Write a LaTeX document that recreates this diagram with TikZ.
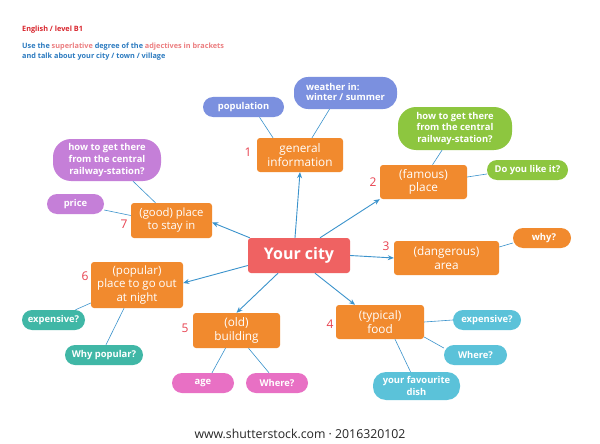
\documentclass[tikz,border=0pt]{standalone}
\usepackage{fontspec}
\setmainfont{Open Sans}
\usetikzlibrary{arrows.meta,calc}
\definecolor{orng}{HTML}{F18A2E}
\definecolor{cred}{HTML}{EF6262}
\definecolor{numred}{HTML}{E8414F}
\definecolor{peri}{HTML}{7B90DF}
\definecolor{lgreen}{HTML}{8DC63F}
\definecolor{purp}{HTML}{C57FD8}
\definecolor{teal}{HTML}{40B7A6}
\definecolor{pink}{HTML}{E870C4}
\definecolor{lblue}{HTML}{5BC2D9}
\definecolor{lineblue}{HTML}{3B93CC}
\definecolor{hblue}{HTML}{2C7BC0}
\definecolor{hpink}{HTML}{EC7E80}
\definecolor{hred}{HTML}{D9262E}
\tikzset{
  mainbox/.style={fill=orng,text=white,rounded corners=3pt,inner sep=0pt,align=center,
    font=\fontsize{11.8}{13.8}\selectfont},
  bub/.style={fill=#1,text=white,rounded corners=10pt,inner sep=0pt,align=center,
    font=\fontsize{9.4}{11.8}\selectfont\bfseries},
  bigbub/.style={fill=#1,text=white,rounded corners=17pt,inner sep=0pt,align=center,
    font=\fontsize{9.4}{11.8}\selectfont\bfseries},
  num/.style={text=numred,font=\fontsize{12}{14}\selectfont,inner sep=0pt},
  arr/.style={draw=lineblue,line width=0.9pt,-{Stealth[length=6pt,width=5pt]}},
  thin/.style={draw=lineblue,line width=0.6pt},
}
\begin{document}
\begin{tikzpicture}[x=1pt,y=-1pt]
\useasboundingbox[fill=white] (0,0) rectangle (600,444);
% header
\node[anchor=west,inner sep=0pt,text=hred,font=\fontsize{7.3}{8.5}\selectfont\bfseries] (h1) at (22,30) {English / level B1};
\node[anchor=west,inner sep=0pt,text=hblue,font=\fontsize{7.3}{8.5}\selectfont\bfseries] (h2) at (22,47) {Use the \textcolor{hpink}{superlative} degree of the \textcolor{hpink}{adjectives in brackets}};
\node[anchor=west,inner sep=0pt,text=hblue,font=\fontsize{7.3}{8.5}\selectfont\bfseries] (h3) at (22,57) {and talk about your city / town / village};
% centre
\node[fill=cred,text=white,rounded corners=3pt,inner sep=0pt,minimum width=102pt,minimum height=35pt,font=\fontsize{16}{18}\selectfont\bfseries] (c) at (299,255.5) {Your city};
% main nodes
\node[mainbox,minimum width=86pt,minimum height=34pt] (g1) at (300,155) {general\\information};
\node[mainbox,minimum width=87pt,minimum height=34pt] (g2) at (423.5,182) {(famous)\\place};
\node[mainbox,minimum width=105pt,minimum height=34pt] (g3) at (446.5,258) {(dangerous)\\area};
\node[mainbox,minimum width=88pt,minimum height=34pt] (g4) at (380,322) {(typical)\\food};
\node[mainbox,minimum width=87pt,minimum height=35pt] (g5) at (236.5,330.5) {(old)\\building};
\node[mainbox,minimum width=92pt,minimum height=46pt,font=\fontsize{11.5}{13.5}\selectfont] (g6) at (137,285) {(popular)\\place to go out\\at night};
\node[mainbox,minimum width=81pt,minimum height=35pt,font=\fontsize{11.3}{13}\selectfont] (g7) at (171.5,220.5) {(good) place\\to stay in};
% numbers
\node[num] (n1) at (248,152) {1};
\node[num] (n2) at (373,182) {2};
\node[num] (n3) at (386,246) {3};
\node[num] (n4) at (330,324) {4};
\node[num] (n5) at (185,328) {5};
\node[num] (n6) at (85,276) {6};
\node[num] (n7) at (124,224) {7};
% bubbles
\node[bub=peri,minimum width=81pt,minimum height=20pt] (pop) at (243.5,107) {population};
\node[bigbub=peri,rounded corners=14pt,minimum width=103pt,minimum height=32pt] (wea) at (345.5,93) {\begin{tabular}{@{}l@{}}weather in:\\[-1.5pt]winter / summer\end{tabular}};
\node[bigbub=lgreen,rounded corners=18pt,minimum width=114pt,minimum height=43pt] (grn) at (455,128.5) {how to get there\\from the central\\railway-station?};
\node[bub=lgreen,minimum width=81pt,minimum height=20pt] (like) at (527.5,170) {Do you like it?};
\node[bub=orng,minimum width=58pt,minimum height=20pt] (why) at (542,238) {\hspace*{4pt}why?};
\node[bigbub=purp,rounded corners=18pt,minimum width=108pt,minimum height=42pt] (pur) at (107,160) {how to get there\\from the central\\railway-station?};
\node[bub=purp,minimum width=57pt,minimum height=20pt] (price) at (75.5,204) {price};
\node[bub=teal,minimum width=63pt,minimum height=20pt] (exp6) at (53.5,320) {expensive?};
\node[bub=teal,minimum width=78pt,minimum height=20pt] (whyp) at (104,355) {Why popular?};
\node[bub=pink,minimum width=62pt,minimum height=20pt] (age) at (203,383) {age};
\node[bub=pink,minimum width=62pt,minimum height=20pt] (wh5) at (277,383) {Where?};
\node[bub=lblue,minimum width=68pt,minimum height=20pt] (exp4) at (487,320) {expensive?};
\node[bub=lblue,minimum width=63pt,minimum height=20pt] (wh4) at (475.5,355) {Where?};
\node[bigbub=lblue,rounded corners=13pt,minimum width=87pt,minimum height=28pt] (dish) at (416.5,386) {your favourite\\dish};
% arrows from centre
\draw[arr] ([xshift=-4pt]c.north) -- (g1.south);
\draw[arr] ([xshift=21pt]c.north) -- (g2.south west);
\draw[arr] (c.east) -- (g3.west);
\draw[arr] ([xshift=16pt]c.south) -- ([xshift=-25pt]g4.north);
\draw[arr] ([xshift=-21pt]c.south) -- (g5.north);
\draw[arr] ([yshift=-10pt]c.west) -- ([yshift=2pt]g6.east);
\draw[arr] ([xshift=2pt]c.north west) -- ([yshift=-2pt]g7.east);
% thin connectors
\draw[thin] ([xshift=-27pt]g1.north) -- ([xshift=16pt]pop.south);
\draw[thin] ([xshift=12pt]g1.north) -- ([xshift=-16pt]wea.south);
\draw[thin] ([xshift=9pt]g2.north) -- ([xshift=-13pt]grn.south);
\draw[thin] ([yshift=5pt]g2.east) -- ([yshift=-4pt]like.west);
\draw[thin] ([yshift=11pt]g3.east) -- ([yshift=-5pt]why.west);
\draw[thin] ([xshift=-16pt]g7.north) -- ([xshift=26pt]pur.south);
\draw[thin] ([yshift=5pt]g7.west) -- ([yshift=-6pt]price.east);
\draw[thin] ([yshift=-18pt]g6.west) -- ([xshift=22pt]exp6.north);
\draw[thin] ([xshift=-13pt]g6.south) -- ([xshift=2pt]whyp.north);
\draw[thin] ([xshift=-11pt]g5.south) -- ([xshift=9pt]age.north);
\draw[thin] ([xshift=12pt]g5.south) -- ([xshift=-8pt]wh5.north);
\draw[thin] (g4.east) -- (exp4.west);
\draw[thin] ([yshift=-15pt]g4.east) -- ([yshift=7pt]wh4.west);
\draw[thin] ([xshift=15pt]g4.south) -- ([xshift=-6pt]dish.north);
% footer
\node[text=black!85,font=\fontsize{12.3}{14}\selectfont] (foot) at (300,434) {www.shutterstock.com · 2016320102};
\end{tikzpicture}
\end{document}
